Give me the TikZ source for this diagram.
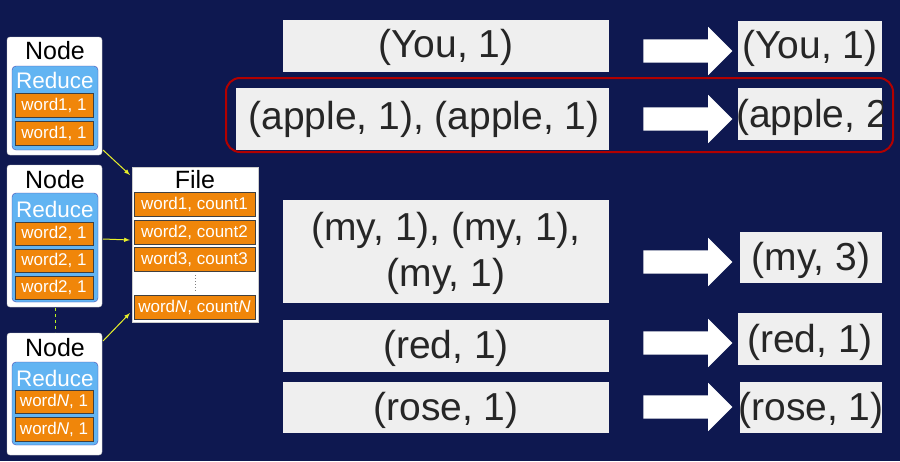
\documentclass[tikz,border=0pt]{standalone}
\usepackage{fontspec}
\setmainfont{Liberation Sans}
\usetikzlibrary{shapes.arrows}
\definecolor{bg}{HTML}{0E1850}
\definecolor{lblue}{HTML}{62B4F2}
\definecolor{org}{HTML}{F0860A}
\definecolor{pale}{HTML}{EFEFEF}
\definecolor{ylw}{HTML}{E8F02A}
\tikzset{
 wbox/.style={fill=white,draw=gray!40,rounded corners=3pt},
 bbox/.style={fill=lblue,draw=gray!60!blue,rounded corners=4pt},
 obox/.style={fill=org,draw=gray!50!black,line width=0.6pt},
 otxt/.style={text=white,font=\fontsize{17}{17}\selectfont,inner sep=0pt},
 ftxt/.style={text=white,font=\fontsize{17}{17}\selectfont,inner sep=0pt},
 ttl/.style={font=\fontsize{25}{25}\selectfont,inner sep=0pt},
 rtxt/.style={text=white,font=\fontsize{22.5}{22.5}\selectfont,inner sep=0pt},
 gbox/.style={fill=pale,draw=none},
 big/.style={font=\fontsize{39}{46}\selectfont,inner sep=0pt,text=black!85,align=center},
 yarr/.style={ylw,line width=1pt,-latex},
 barrow/.style={single arrow,fill=white,draw=none,minimum height=89pt,single arrow head extend=12.5pt,single arrow tip angle=90,inner sep=0pt,outer sep=0pt},
}
\newcommand{\shaftrule}{\rule{0pt}{23pt}}
\begin{document}
\begin{tikzpicture}[x=1pt,y=-1pt]
\fill[bg] (0,0) rectangle (900,461);
\useasboundingbox (0,0) rectangle (900,461);
% Node 1
\draw[wbox] (7,37) rectangle (102,155);
\node[ttl] (n1) at (55,51) {Node};
\draw[bbox] (12,66) rectangle (98,150);
\node[rtxt] (r1) at (55,80) {Reduce};
\draw[obox] (15,93) rectangle (93,117); \node[otxt] (a1) at (54,105) {word1, 1};
\draw[obox] (15,121) rectangle (93,145); \node[otxt] (a2) at (54,133) {word1, 1};
% Node 2
\draw[wbox] (7,165) rectangle (102,307);
\node[ttl] (n2) at (55,180) {Node};
\draw[bbox] (12,193) rectangle (98,302);
\node[rtxt] (r2) at (55,209) {Reduce};
\draw[obox] (15,222) rectangle (93,245); \node[otxt] (b1) at (54,233.5) {word2, 1};
\draw[obox] (15,249) rectangle (93,272); \node[otxt] (b2) at (54,260.5) {word2, 1};
\draw[obox] (15,276) rectangle (93,299); \node[otxt] (b3) at (54,287.5) {word2, 1};
% Node 3
\draw[wbox] (7,333) rectangle (102,455);
\node[ttl] (n3) at (55,348) {Node};
\draw[bbox] (12,362) rectangle (98,445);
\node[rtxt] (r3) at (55,378) {Reduce};
\draw[obox] (15,390) rectangle (93,413); \node[otxt] (c1) at (54,401.5) {word\textit{N}, 1};
\draw[obox] (15,417) rectangle (93,441); \node[otxt] (c2) at (54,429) {word\textit{N}, 1};
% File
\draw[fill=white,draw=gray!40] (132,167) rectangle (258,322);
\node[ttl] (ft) at (195,180) {File};
\draw[obox] (134,192) rectangle (255,216); \node[ftxt] (f1) at (194.5,204) {word1, count1};
\draw[obox] (134,220) rectangle (255,244); \node[ftxt] (f2) at (194.5,232) {word2, count2};
\draw[obox] (134,247) rectangle (255,271); \node[ftxt] (f3) at (194.5,259) {word3, count3};
\draw[gray,dotted,line width=1pt] (195,275) -- (195,292);
\draw[obox] (134,295) rectangle (255,319); \node[ftxt] (f4) at (194.5,307) {word\textit{N}, count\textit{N}};
% connectors
\coordinate (s1) at (103,150); \coordinate (e1) at (130,175);
\coordinate (s2) at (103,239); \coordinate (e2) at (130,240);
\coordinate (s3) at (103,341); \coordinate (e3) at (130,313);
\draw[yarr] (s1) -- (e1);
\draw[yarr] (s2) -- (e2);
\draw[yarr] (s3) -- (e3);
\coordinate (d1) at (55,308); \coordinate (d2) at (55,332);
\draw[ylw!80!green,dashed,line width=1pt] (d1) -- (d2);
% right side
\fill[gbox] (283,20) rectangle (609,72);
\node[big] (L1) at (446,47) {(You, 1)};
\fill[gbox] (236,88) rectangle (609,150);
\node[big] (L2) at (424,119) {(apple, 1), (apple, 1)};
\fill[gbox] (283,200) rectangle (609,303);
\node[big] (L3) at (446,253) {(my, 1), (my, 1),\\(my, 1)};
\fill[gbox] (283,320) rectangle (609,372);
\node[big] (L4) at (446,348) {(red, 1)};
\fill[gbox] (283,382) rectangle (609,433);
\node[big] (L5) at (446,410) {(rose, 1)};
\fill[gbox] (738,21) rectangle (882,72);
\node[big] (R1) at (810,48) {(You, 1)};
\begin{scope}
\clip (730,88) rectangle (882,140);
\fill[gbox] (738,88) rectangle (882,140);
\node[big,anchor=west] (R2) at (736,117) {(apple, 2)};
\end{scope}
\fill[gbox] (740,232) rectangle (882,283);
\node[big] (R3) at (811,260) {(my, 3)};
\fill[gbox] (738,313) rectangle (882,365);
\node[big] (R4) at (810,342) {(red, 1)};
\fill[gbox] (740,382) rectangle (882,433);
\node[big] (R5) at (811,410) {(rose, 1)};
\draw[red!70!black,line width=2pt,rounded corners=14pt] (226,78) rectangle (893,152);
\node[barrow] (A1) at (682,51) {\shaftrule};
\node[barrow] (A2) at (682,119) {\shaftrule};
\node[barrow] (A3) at (682,262) {\shaftrule};
\node[barrow] (A4) at (682,343) {\shaftrule};
\node[barrow] (A5) at (682,407) {\shaftrule};
\end{tikzpicture}
\end{document}
